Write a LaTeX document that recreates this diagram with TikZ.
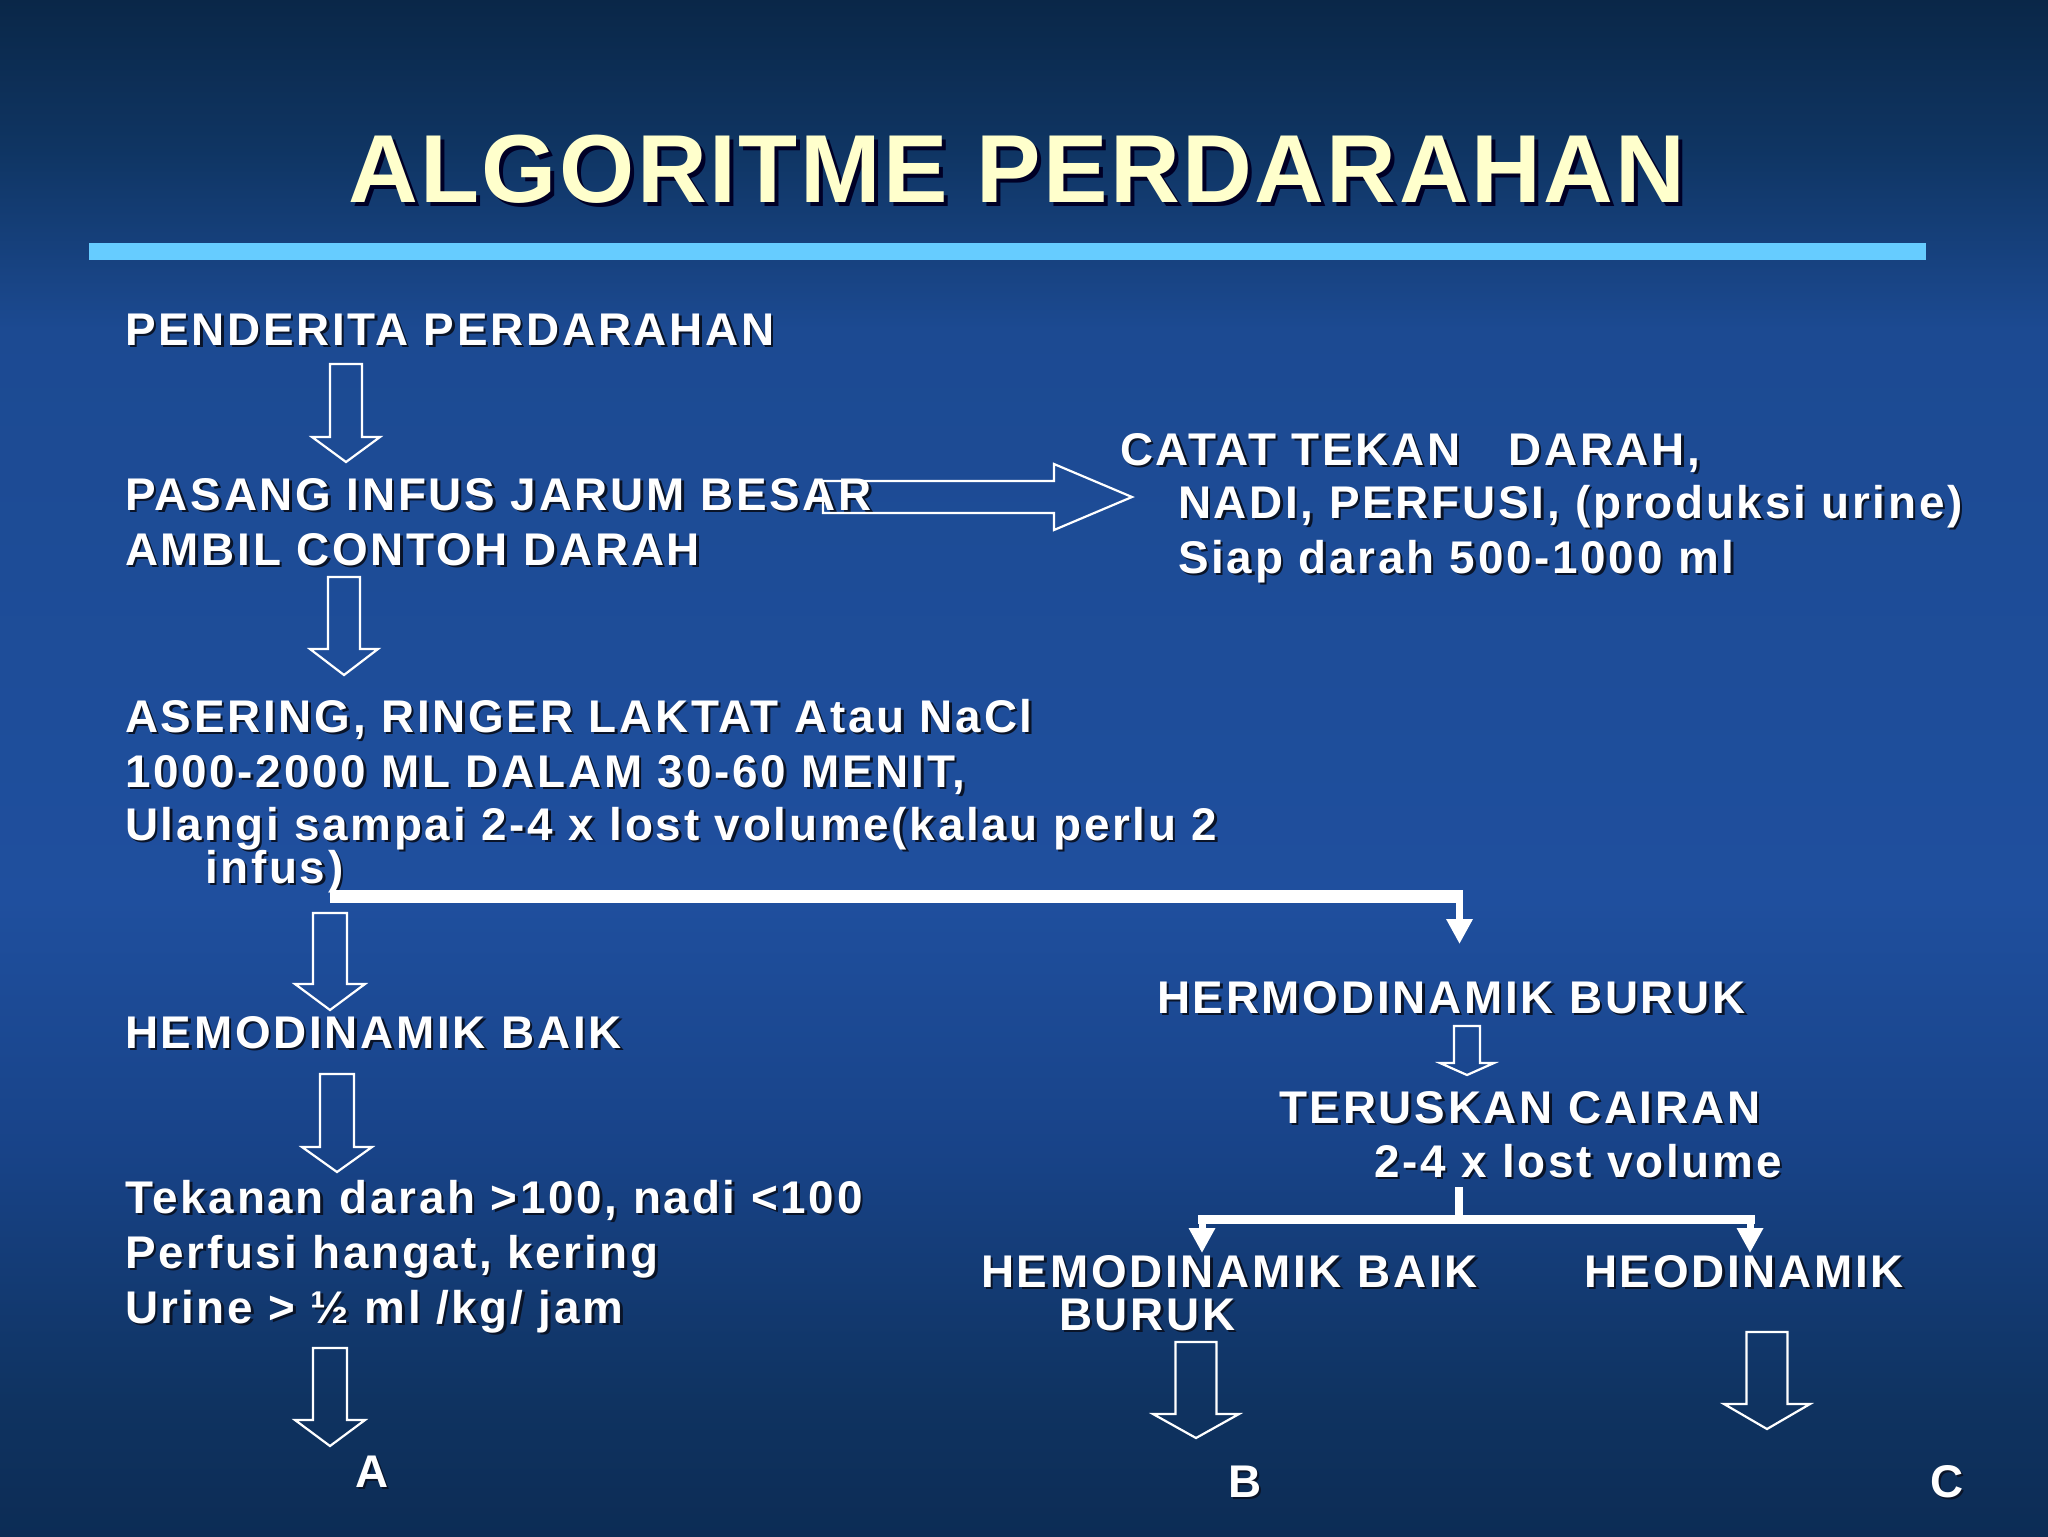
\documentclass[tikz,border=0pt]{standalone}
\usepackage{fontspec}
\setmainfont{Liberation Sans}
\newfontfamily\bodyfont{Liberation Sans}[LetterSpace=6]
\newfontfamily\titlefont{Liberation Sans}[LetterSpace=2.5]
\usetikzlibrary{arrows.meta}
\definecolor{bgA}{HTML}{0A2748}
\definecolor{bgB}{HTML}{0F3563}
\definecolor{bgC}{HTML}{1C4A92}
\definecolor{bgD}{HTML}{1F4F9E}
\definecolor{bgE}{HTML}{184388}
\definecolor{bgF}{HTML}{0F3361}
\definecolor{bgG}{HTML}{0C2C55}
\definecolor{barc}{HTML}{66CCFF}
\definecolor{titlec}{HTML}{FFFFCC}
\definecolor{shad}{HTML}{0A1428}
\newcommand{\shtext}[4]{%
  \node[txt,text=shad] at (#2+2.5,#3+2.5) {#4};
  \node[txt] (#1) at (#2,#3) {#4};}
\newcommand{\hdown}[7]{%
  \draw[harrow] (#2-#6,#3) -- (#2-#6,#4) -- (#2-#7,#4) -- (#2,#5) -- (#2+#7,#4) -- (#2+#6,#4) -- (#2+#6,#3) -- cycle;
  \coordinate (#1) at (#2,#5);}
\begin{document}
\begin{tikzpicture}[x=0.5bp,y=-0.5bp,
  txt/.style={anchor=base west, inner sep=0pt, outer sep=0pt, text=white,
    font=\bodyfont\bfseries\fontsize{23}{27}\selectfont},
  ttl/.style={anchor=base, inner sep=0pt, outer sep=0pt,
    font=\titlefont\bfseries\fontsize{48.5}{56}\selectfont},
  harrow/.style={draw=white, line width=1.1bp, line join=miter},
  wline/.style={draw=white, line cap=butt},
  wtip/.style={-{Triangle[width=12.5bp,length=12.5bp]}}]
% background
\useasboundingbox (0,0) rectangle (2048,1536);
\shade[top color=bgA, bottom color=bgB] (0,0) rectangle (2048,151);
\shade[top color=bgB, bottom color=bgC] (0,150) rectangle (2048,331);
\shade[top color=bgC, bottom color=bgD] (0,330) rectangle (2048,901);
\shade[top color=bgD, bottom color=bgE] (0,900) rectangle (2048,1151);
\shade[top color=bgE, bottom color=bgF] (0,1150) rectangle (2048,1401);
\shade[top color=bgF, bottom color=bgG] (0,1400) rectangle (2048,1536);
% title
\node[ttl,text=black!85!blue] at (1021,206) {ALGORITME PERDARAHAN};
\node[ttl,text=titlec] (title) at (1017,202) {ALGORITME PERDARAHAN};
\fill[barc] (89,243) rectangle (1926,260);
% texts
\shtext{t1}{125}{345}{PENDERITA PERDARAHAN}
\shtext{t2}{125}{510}{PASANG INFUS JARUM BESAR}
\shtext{t3}{125}{565}{AMBIL CONTOH DARAH}
\shtext{r1}{1120}{465}{CATAT TEKAN\hspace{24bp}DARAH,}
\shtext{r2}{1178}{518}{NADI, PERFUSI, (produksi urine)}
\shtext{r3}{1178}{573}{Siap darah 500-1000 ml}
\shtext{a1}{125}{732}{ASERING, RINGER LAKTAT Atau NaCl}
\shtext{a2}{125}{787}{1000-2000 ML DALAM 30-60 MENIT,}
\shtext{a3}{125}{840}{Ulangi sampai 2-4 x lost volume(kalau perlu 2}
\shtext{a4}{205}{883}{infus)}
\shtext{hb}{125}{1048}{HEMODINAMIK BAIK}
\shtext{hr}{1157}{1013}{HERMODINAMIK BURUK}
\shtext{tc}{1279}{1123}{TERUSKAN CAIRAN}
\shtext{lv}{1374}{1177}{2-4 x lost volume}
\shtext{k1}{125}{1213}{Tekanan darah >100, nadi <100}
\shtext{k2}{125}{1268}{Perfusi hangat, kering}
\shtext{k3}{125}{1323}{Urine > ½ ml /kg/ jam}
\shtext{hb2}{981}{1287}{HEMODINAMIK BAIK}
\shtext{bk}{1059}{1330}{BURUK}
\shtext{he}{1584}{1287}{HEODINAMIK}
\shtext{la}{355}{1487}{A}
\shtext{lb}{1228}{1497}{B}
\shtext{lc}{1930}{1497}{C}
% hollow arrows
\hdown{ar1}{346}{364}{437}{462}{16}{34}
\hdown{ar2}{344}{577}{649}{675}{16}{34}
\hdown{ar3}{330}{913}{984}{1010}{17}{35}
\hdown{ar4}{337}{1074}{1147}{1172}{17}{35}
\hdown{ar5}{330}{1348}{1420}{1446}{17}{35}
\hdown{ar6}{1467}{1026}{1063}{1075}{13}{27}
\hdown{arB}{1196}{1342}{1414}{1438}{20.5}{43}
\hdown{arC}{1767}{1332}{1404}{1429}{20.5}{43}
\draw[harrow] (823,481) -- (1054,481) -- (1054,464) -- (1132,497) -- (1054,530) -- (1054,513) -- (823,513) -- cycle;
% solid white connectors
\coordinate (c1a) at (330,896.5);
\coordinate (c1b) at (1463,896.5);
\coordinate (c1c) at (1459.5,891);
\coordinate (c1d) at (1459.5,944);
\draw[wline, line width=6.5bp] (c1a) -- (c1b);
\draw[wline, line width=3.5bp, wtip] (c1c) -- (c1d);
\coordinate (c2s) at (1459,1187);
\coordinate (c2m) at (1459,1222);
\coordinate (c2l) at (1198,1219);
\coordinate (c2r) at (1755,1219);
\coordinate (c2lt) at (1202,1215);
\coordinate (c2lb) at (1202,1253);
\coordinate (c2rt) at (1750,1215);
\coordinate (c2rb) at (1750,1253);
\draw[wline, line width=4bp] (c2s) -- (c2m);
\draw[wline, line width=4.5bp] (c2l) -- (c2r);
\draw[wline, line width=3.5bp, wtip] (c2lt) -- (c2lb);
\draw[wline, line width=3.5bp, wtip] (c2rt) -- (c2rb);
\end{tikzpicture}
\end{document}
